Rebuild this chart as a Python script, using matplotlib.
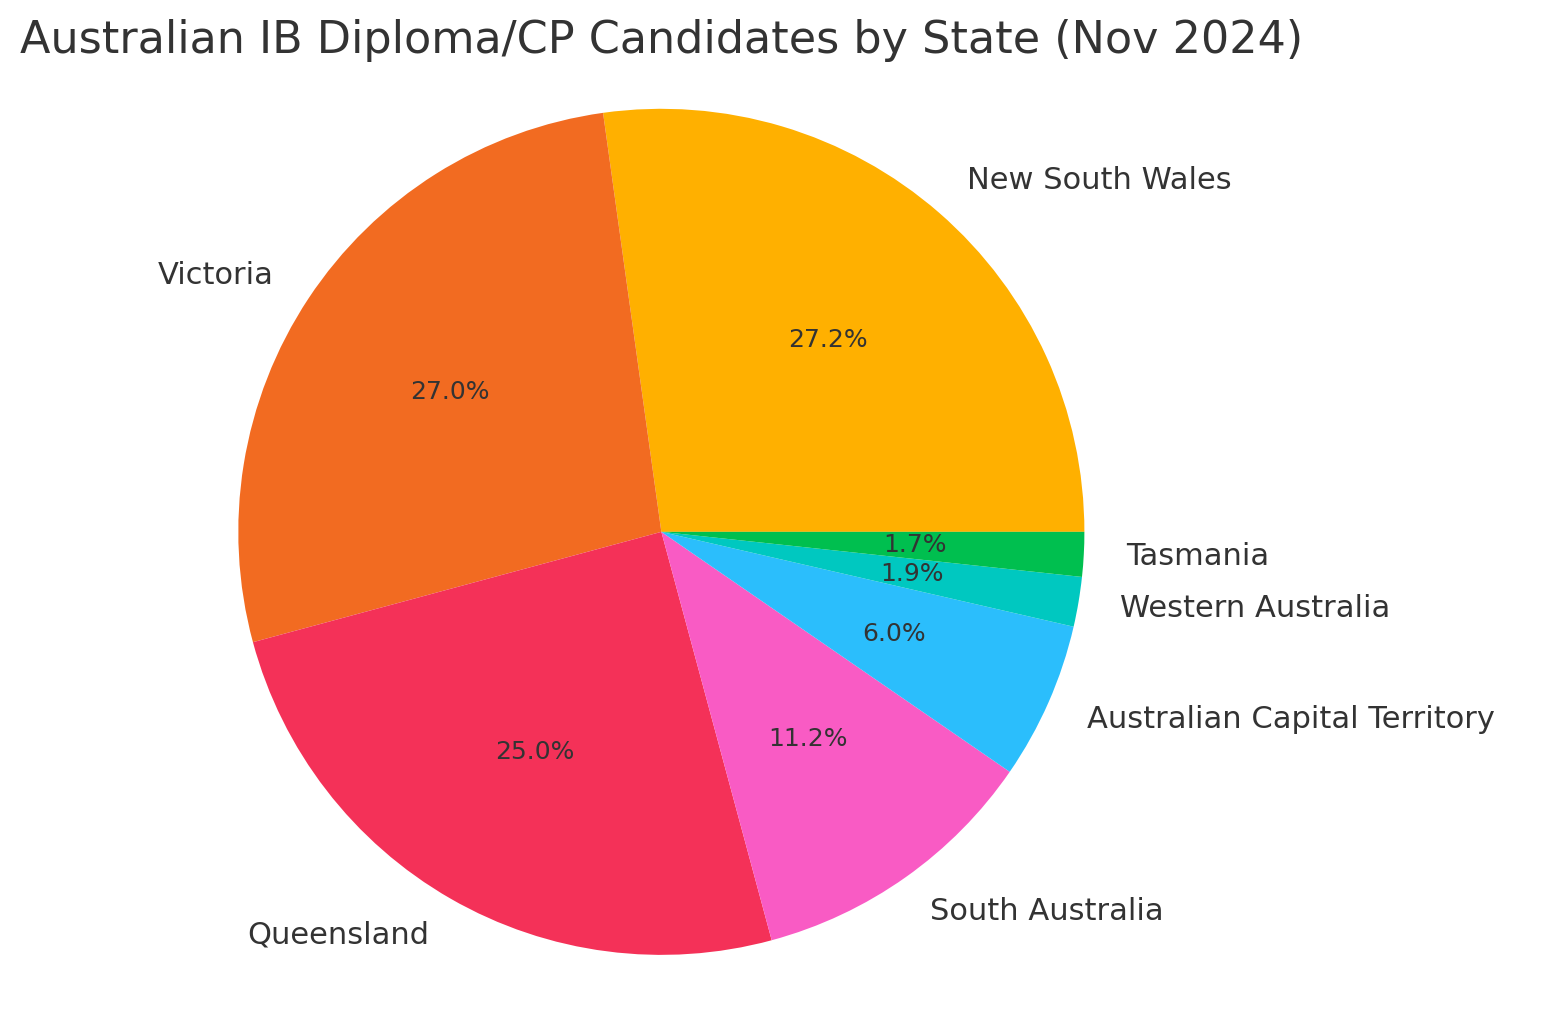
import matplotlib
matplotlib.use("Agg")
import matplotlib.pyplot as plt

states = ["New South Wales", "Victoria", "Queensland", "South Australia",
          "Australian Capital Territory", "Western Australia", "Tasmania"]
shares = [27.2, 27.0, 25.0, 11.2, 6.0, 1.9, 1.7]
colors = ["#FFB000", "#F26B21", "#F43158", "#F95BC4", "#2BBEFC", "#00C8C0", "#00BF4F"]

plt.rcParams['font.family'] = ['DejaVu Sans']
fig = plt.figure(figsize=(7.755, 5.07), dpi=200)
ax = fig.add_axes([0.0854, -0.046, 0.682, 1.043])
wedges, texts, autotexts = ax.pie(shares, labels=states, colors=colors, startangle=0,
                                  autopct='%1.1f%%', pctdistance=0.6, labeldistance=1.1,
                                  textprops={'color': '#333333', 'fontsize': 11})
for t in autotexts:
    t.set_fontsize(9)
ax.set_aspect('equal')
fig.text(0.013, 0.96, "Australian IB Diploma/CP Candidates by State (Nov 2024)",
         fontsize=16, color='#333333', ha='left', va='center')
fig.savefig("out.png", dpi=200, facecolor='white')
